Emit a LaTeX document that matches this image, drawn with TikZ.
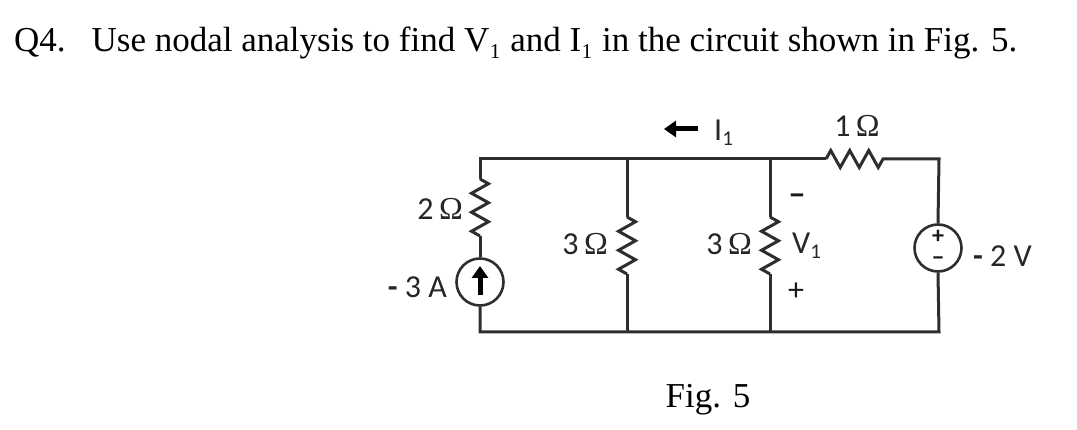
\documentclass[tikz,border=0pt]{standalone}
\usepackage{fontspec}
\setmainfont{Liberation Serif}
\newfontfamily\labelfont{Carlito}
\usetikzlibrary{arrows.meta, decorations.pathmorphing}
\tikzstyle{wire} = [line width=3pt, draw=black!82, line join=miter]
\tikzstyle{resistor} = [wire, decorate, decoration={zigzag, segment length=19pt, amplitude=8.5pt}]
\tikzstyle{source} = [circle, draw=black!82, line width=2.6pt, minimum size=47pt, inner sep=0pt, fill=white]
\tikzstyle{arrow} = [line width=5pt, draw=black, -{Triangle[length=12pt, width=16pt]}]
\tikzstyle{value} = [inner sep=0pt, text=black!85, font=\labelfont\fontsize{32}{32}\selectfont]
\tikzstyle{sign} = [inner sep=0pt, text=black!90, font=\labelfont\bfseries\fontsize{32}{32}\selectfont]
\tikzstyle{srcsign} = [inner sep=0pt, text=black!90, font=\labelfont\bfseries\fontsize{24}{24}\selectfont]
\tikzstyle{question} = [inner sep=0pt, text=black, font=\fontsize{35}{35}\selectfont]
\newcommand{\ohm}{{\rmfamily\fontsize{32}{32}\selectfont Ω}}
\newcommand{\smallone}{\raisebox{-5pt}{\fontsize{21}{21}\selectfont 1}}
\begin{document}
\begin{tikzpicture}[x=1pt, y=-1pt]
				\useasboundingbox (0,0) rectangle (1077,430);
				
				% Nodes
				\node (title) [question, anchor=base west] at (14,52) {Q4.\hspace{26pt}Use nodal analysis to find V₁ and I₁ in the circuit shown in Fig. 5.};
				\node (figure) [question, anchor=base] at (708,408) {Fig. 5};
				
				\coordinate (topleft) at (480,159);
				\coordinate (topmid) at (627,159);
				\coordinate (topright) at (770,159);
				\coordinate (topend) at (939,159);
				\coordinate (botleft) at (480,332);
				\coordinate (botmid) at (627,332);
				\coordinate (botright) at (770,332);
				\coordinate (botend) at (939,332);
				
				\coordinate (rtwotop) at (480,179);
				\coordinate (rtwobot) at (480,236);
				\coordinate (rmidtop) at (627,217);
				\coordinate (rmidbot) at (627,274);
				\coordinate (rvtop) at (770,217);
				\coordinate (rvbot) at (770,274);
				\coordinate (ronea) at (826,159);
				\coordinate (roneb) at (884,159);
				
				\node (csource) [source] at (480,282) {};
				\node (vsource) [source] at (938,248) {};
				\node (vplus) [srcsign] at (938,237) {+};
				\node (vminus) [srcsign] at (938,261) {\textminus};
				\coordinate (arrowtail) at (480,295);
				\coordinate (arrowhead) at (480,266);
				\coordinate (itail) at (698,129);
				\coordinate (ihead) at (664,129);
				
				\node (labeltwo) [value, anchor=east] at (463,209) {2\,\ohm};
				\node (labelmid) [value, anchor=east] at (608,244) {3\,\ohm};
				\node (labelv) [value, anchor=east] at (752,244) {3\,\ohm};
				\node (labelone) [value, anchor=base] at (857,137) {1\,\ohm};
				\node (labelcs) [value, anchor=east] at (447,287) {\textbf{-} 3 A};
				\node (labelvs) [value, anchor=west] at (973,256) {\textbf{-} 2 V};
				\node (labeli) [value, anchor=base west] at (714,141) {I\smallone};
				\node (labelvone) [value, anchor=base west] at (792,254) {V\smallone};
				\node (vonominus) [sign] at (797,200) {\textminus};
				\node (voneplus) [sign, font=\labelfont\fontsize{32}{32}\selectfont] at (796,292) {+};
				
				% Wires
				\draw [wire] (rtwotop) -- (topleft) -- (ronea);
				\draw [wire] (roneb) -- (topend) -- (vsource.north);
				\draw [wire] (vsource.south) -- (botend) -- (botleft) -- (csource.south);
				\draw [wire] (rtwobot) -- (csource.north);
				\draw [wire] (topmid) -- (rmidtop);
				\draw [wire] (rmidbot) -- (botmid);
				\draw [wire] (topright) -- (rvtop);
				\draw [wire] (rvbot) -- (botright);
				
				% Resistors
				\draw [resistor] (rtwotop) -- (rtwobot);
				\draw [resistor] (rmidtop) -- (rmidbot);
				\draw [resistor] (rvtop) -- (rvbot);
				\draw [resistor] (ronea) -- (roneb);
				
				% Arrows
				\draw [arrow] (arrowtail) -- (arrowhead);
				\draw [arrow] (itail) -- (ihead);
				
			\end{tikzpicture}
\end{document}
